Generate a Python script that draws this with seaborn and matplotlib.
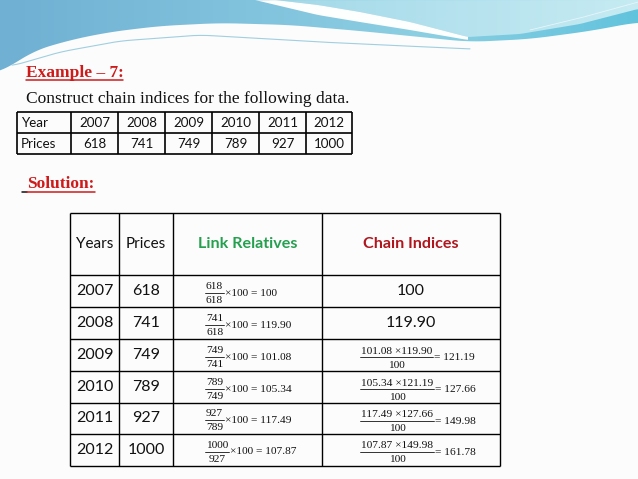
import numpy as np
import matplotlib
matplotlib.use("Agg")
import matplotlib.pyplot as plt
import seaborn as sns
from matplotlib.patches import Polygon
from matplotlib.colors import LinearSegmentedColormap

# ---------------- data ----------------
years = [2007, 2008, 2009, 2010, 2011, 2012]
prices = [618, 741, 749, 789, 927, 1000]
link_relatives = [100, 119.90, 101.08, 105.34, 117.49, 107.87]
chain_indices = [100, 119.90, 121.19, 127.66, 149.98, 161.78]
top_row_labels = ["Year", "Prices"]
header_labels = ["Years", "Prices", "Link Relatives", "Chain Indices"]
example_title = "Example – 7:"
question = "Construct chain indices for the following data."
solution_title = "Solution:"

sns.set_theme(style="white")
plt.rcParams["font.family"] = ["Lato", "DejaVu Sans"]

RED = "#cf1a1a"
GREEN = "#25a04f"
DARKRED = "#b0161e"
INK = "#111111"
SERIF = ["Liberation Serif", "DejaVu Serif"]

fig = plt.figure(figsize=(6.38, 4.79), dpi=100)
fig.patch.set_facecolor("#fcfcfc")
ax = fig.add_axes([0, 0, 1, 1])
ax.set_facecolor("#fcfcfc")
ax.set_xlim(0, 638)
ax.set_ylim(479, 0)
ax.axis("off")
renderer = fig.canvas.get_renderer()


def smooth_curve(px, py, n=400, k=25):
    xs = np.linspace(px[0], px[-1], n)
    ys = np.interp(xs, px, py)
    pad = np.pad(ys, k, mode="edge")
    ker = np.ones(2 * k + 1) / (2 * k + 1)
    ys = np.convolve(pad, ker, mode="same")[k:-k]
    return xs, ys


def gradient_fill(verts, colors, x0, x1, zorder):
    poly = Polygon(verts, closed=True, facecolor="none", edgecolor="none")
    ax.add_patch(poly)
    cmap = LinearSegmentedColormap.from_list("g", colors)
    grad = np.linspace(0, 1, 256).reshape(1, -1)
    im = ax.imshow(grad, cmap=cmap, extent=(x0, x1, 100, 0), aspect="auto",
                   zorder=zorder, interpolation="bicubic")
    im.set_clip_path(poly)


# ---------------- header wave ----------------
bx, by = smooth_curve([0, 30, 70, 110, 160, 220, 290, 360, 420, 470, 530, 590, 638],
                      [74, 52, 40, 32, 26, 23, 25, 31, 37, 42, 39, 31, 22], k=12)
verts = [(0, 0), (638, 0)] + list(zip(bx[::-1], by[::-1]))
gradient_fill(verts, ["#6fb0d3", "#7fc0dc", "#8ccfe2", "#62c3dd"], 0, 638, 1)

ux, uy = smooth_curve([275, 318, 360, 410, 468], [0, 5, 12, 22, 37], k=10)
rx, ry = smooth_curve([468, 520, 580, 638], [37, 34, 24, 9], k=10)
verts = list(zip(ux, uy)) + list(zip(rx, ry)) + [(638, 0)]
gradient_fill(verts, ["#a3d9e8", "#b5e2ee", "#c6ebf2"], 275, 638, 2)

lx, ly = smooth_curve([255, 318, 360, 410, 468], [0, 15, 22, 30, 40], k=10)
verts = list(zip(ux, uy)) + list(zip(lx[::-1], ly[::-1]))
ax.add_patch(Polygon(verts, closed=True, facecolor="#fdfefe", edgecolor="none", zorder=3))

tx, ty = smooth_curve([12, 60, 120, 200, 320, 470], [66, 52, 41, 35, 42, 49], k=10)
ax.plot(tx, ty, color="#9fcfe0", lw=0.8, zorder=3)
tx2, ty2 = smooth_curve([530, 580, 638], [30, 18, 2], k=5)
ax.plot(tx2, ty2, color="#e6f6fa", lw=0.6, zorder=3)

# ---------------- titles ----------------
ax.text(26, 77, example_title, color=RED, fontsize=12.5, fontweight="bold",
        family=SERIF, ha="left", va="baseline", zorder=5)
ax.plot([26, 123], [80, 80], color=RED, lw=1.1, zorder=5)
ax.text(26, 103, question, color=INK, fontsize=12.5, family=SERIF,
        ha="left", va="baseline", zorder=5)
ax.text(27, 188, solution_title, color=RED, fontsize=12.5, fontweight="bold",
        family=SERIF, ha="left", va="baseline", zorder=5)
ax.plot([22, 27], [192, 192], color=INK, lw=1.1, zorder=5)
ax.plot([27, 95], [192, 192], color=RED, lw=1.1, zorder=5)

# ---------------- small data table ----------------
tcols = [17, 71, 118, 165, 212, 259, 306, 352]
trows = [112, 133, 154]
ax.hlines(trows, tcols[0], tcols[-1], color="black", lw=1.2, zorder=5)
ax.vlines(tcols, trows[0], trows[-1], color="black", lw=1.2, zorder=5)
row_vals = [years, prices]
for r in range(2):
    yc = (trows[r] + trows[r + 1]) / 2 + 0.5
    ax.text(tcols[0] + 4, yc, top_row_labels[r], fontsize=9.6, ha="left",
            va="center", color=INK, zorder=6)
    for c, v in enumerate(row_vals[r]):
        xc = (tcols[c + 1] + tcols[c + 2]) / 2
        ax.text(xc, yc, str(v), fontsize=9.6, ha="center", va="center",
                color=INK, zorder=6)

# ---------------- solution table ----------------
cols = [70, 119, 173, 322, 500]
rows = [213, 275, 307, 339, 371, 403, 434, 466]
ax.hlines(rows, cols[0], cols[-1], color="black", lw=1.0, zorder=5)
ax.vlines(cols, rows[0], rows[-1], color="black", lw=1.0, zorder=5)

hdr_colors = [INK, INK, GREEN, DARKRED]
hdr_weights = ["normal", "normal", "bold", "bold"]
hdr_sizes = [11, 11, 11.6, 11.6]
hy = (rows[0] + rows[1]) / 2
for c, lab in enumerate(header_labels):
    xc = (cols[c] + cols[c + 1]) / 2
    ax.text(xc, hy, lab, fontsize=hdr_sizes[c], ha="center", va="center",
            color=hdr_colors[c], fontweight=hdr_weights[c], zorder=6)


def fmt(v):
    s = f"{v:.2f}"
    return s[:-3] if s.endswith(".00") else s


FS = 8.2


def fraction(x0, ybar, num, den, rest):
    t = ax.text(x0 + 1, ybar - 3.5, num, fontsize=FS, family=SERIF, ha="left",
                va="baseline", color=INK, zorder=6)
    w = t.get_window_extent(renderer).width
    ax.plot([x0, x0 + w + 2], [ybar, ybar], color=INK, lw=0.6, zorder=6)
    ax.text(x0 + (w + 2) / 2, ybar + 10.5, den, fontsize=FS, family=SERIF,
            ha="center", va="baseline", color=INK, zorder=6)
    ax.text(x0 + w + 3, ybar + 3, rest, fontsize=FS, family=SERIF, ha="left",
            va="baseline", color=INK, zorder=6)


for i in range(len(years)):
    yc = (rows[i + 1] + rows[i + 2]) / 2
    ax.text((cols[0] + cols[1]) / 2, yc, str(years[i]), fontsize=11.5,
            ha="center", va="center", color=INK, zorder=6)
    ax.text((cols[1] + cols[2]) / 2, yc, str(prices[i]), fontsize=11.5,
            ha="center", va="center", color=INK, zorder=6)
    den = prices[i - 1] if i > 0 else prices[0]
    fraction(205, yc + 1.5, str(prices[i]), str(den),
             "×100 = " + fmt(link_relatives[i]))
    if i < 2:
        ax.text((cols[3] + cols[4]) / 2, yc, fmt(chain_indices[i]), fontsize=11.5,
                ha="center", va="center", color=INK, zorder=6)
    else:
        fraction(360, yc + 2, fmt(link_relatives[i]) + " ×" + fmt(chain_indices[i - 1]),
                 "100", "= " + fmt(chain_indices[i]))

fig.savefig("out.png", dpi=100, facecolor=fig.get_facecolor())
